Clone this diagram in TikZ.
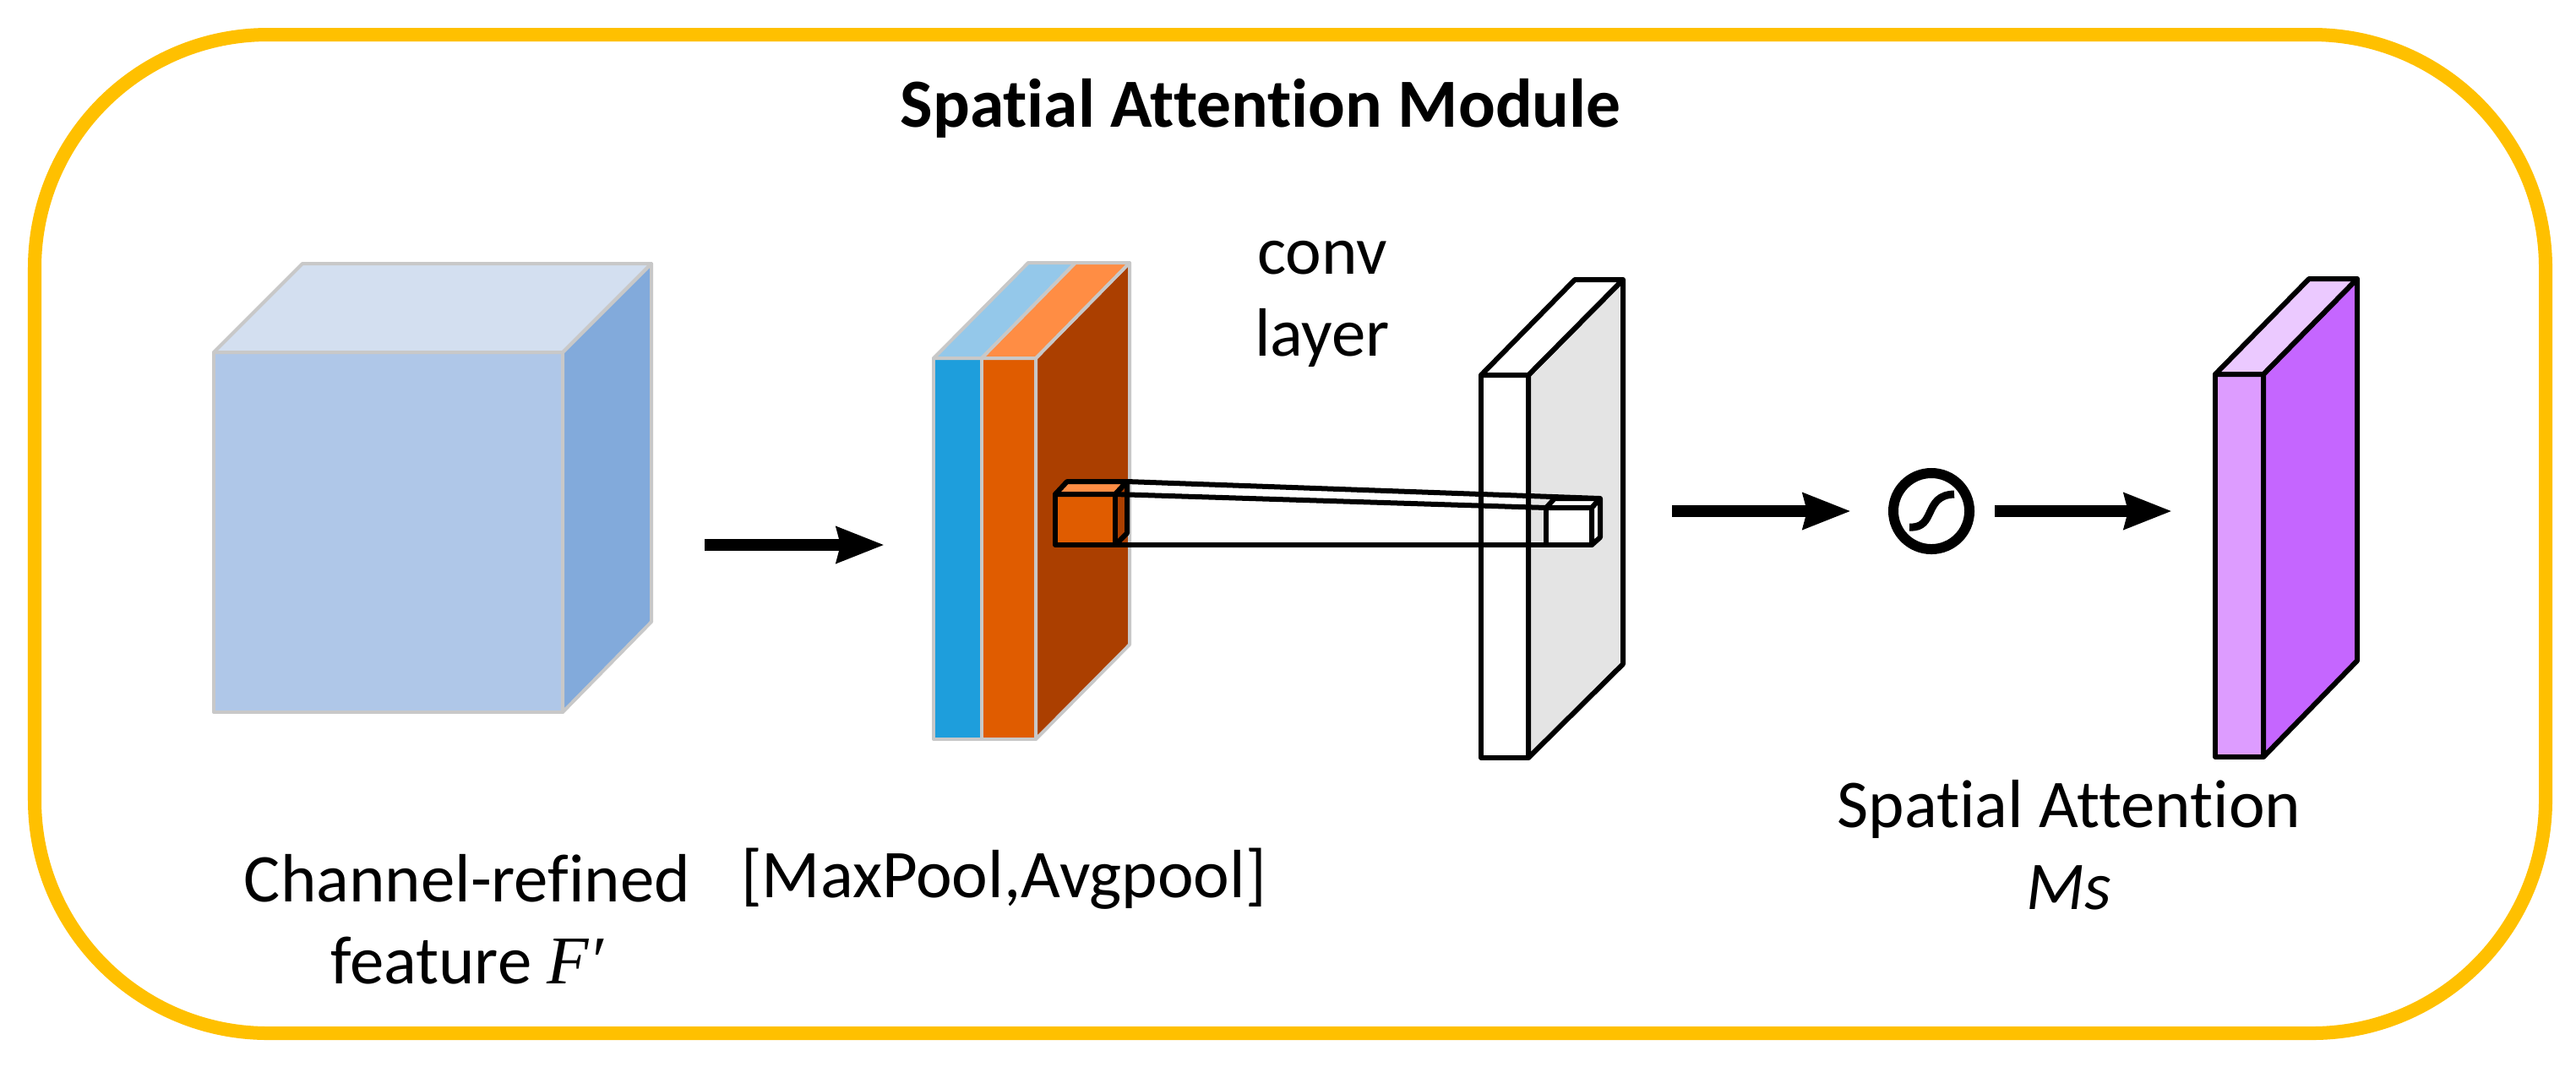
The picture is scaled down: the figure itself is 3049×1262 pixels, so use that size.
\documentclass[tikz,border=0pt]{standalone}
\usepackage{amsmath}
\usepackage{fontspec}
\setmainfont[Ligatures=NoCommon]{Carlito}
\newfontfamily\primefont{Liberation Serif}
\usetikzlibrary{arrows.meta}
\pgfdeclarelayer{nodelayer}
\pgfdeclarelayer{edgelayer}
\pgfsetlayers{edgelayer,nodelayer,main}
\definecolor{frameyellow}{HTML}{FFC000}
\definecolor{edgegray}{HTML}{C8C8C8}
\definecolor{cubefront}{HTML}{AFC7E8}
\definecolor{cubeside}{HTML}{82AADB}
\definecolor{cubetop}{HTML}{D3DFF0}
\definecolor{poolblue}{HTML}{1E9EDC}
\definecolor{poolorange}{HTML}{E05C00}
\definecolor{poolside}{HTML}{AB3F00}
\definecolor{pooltopblue}{HTML}{94C8EA}
\definecolor{pooltoporange}{HTML}{FF8D44}
\definecolor{convside}{HTML}{E4E4E4}
\definecolor{attnfront}{HTML}{DD9CFF}
\definecolor{attnside}{HTML}{C566FF}
\definecolor{attntop}{HTML}{EBC9FF}
\tikzstyle{frame}=[draw=frameyellow, line width=0.16cm, rounded corners=2.76cm]
\tikzstyle{gray face}=[draw=edgegray, line width=0.04cm, line join=round]
\tikzstyle{black face}=[draw=black, line width=0.06cm, line join=round]
\tikzstyle{text box}=[align=center, inner sep=0pt, font=\fontsize{23}{27.5}\selectfont]
\tikzstyle{title box}=[align=center, inner sep=0pt, font=\fontsize{23.2}{27.5}\selectfont\bfseries]
\tikzstyle{sigmoid}=[draw=black, shape=circle, line width=0.12cm, minimum size=0.9cm, inner sep=0pt]
\tikzstyle{directed edge}=[-{Stealth[length=0.56cm, width=0.41cm, inset=0.04cm]}, line width=0.14cm]

\begin{document}
\begin{tikzpicture}[x=0.01cm, y=-0.01cm]
	\useasboundingbox (0, 0) rectangle (3049, 1262);
	\begin{pgfonlayer}{nodelayer}
		\node [style=title box] (0) at (1492, 128) {Spatial Attention Module};
		\node [style=text box] (1) at (1565, 360) {conv\\layer};
		\node [style=text box] (2) at (553, 1088) {Channel-refined\\feature {\primefont\itshape F′}};
		\node [style=text box] (3) at (1188, 1040) {[MaxPool,Avgpool]};
		\node [style=text box] (4) at (2449, 1000) {Spatial Attention\\\textit{Ms}};
		\node [style=sigmoid] (5) at (2286, 605) {};
		\draw [line width=0.09cm] (2260, 624) .. controls (2292, 626) and (2276, 586) .. (2313, 585);
		\coordinate (6) at (834, 645);
		\coordinate (7) at (1047, 645);
		\coordinate (8) at (1979, 605);
		\coordinate (9) at (2571, 605);
	\end{pgfonlayer}
	\begin{pgfonlayer}{edgelayer}
		\draw [style=frame] (41, 41) rectangle (3013, 1223);
		% input cube
		\draw [style=gray face, fill=cubefront] (253, 417) rectangle (666, 843);
		\draw [style=gray face, fill=cubeside] (666, 417) -- (771, 312) -- (771, 736) -- (666, 843) -- cycle;
		\draw [style=gray face, fill=cubetop] (253, 417) -- (358, 312) -- (771, 312) -- (666, 417) -- cycle;
		% pooled maps
		\draw [style=gray face, fill=poolblue] (1105, 424) rectangle (1162, 875);
		\draw [style=gray face, fill=poolorange] (1162, 424) rectangle (1226, 875);
		\draw [style=gray face, fill=poolside] (1226, 424) -- (1337, 311) -- (1337, 763) -- (1226, 875) -- cycle;
		\draw [style=gray face, fill=pooltopblue] (1105, 424) -- (1217, 311) -- (1273, 311) -- (1162, 424) -- cycle;
		\draw [style=gray face, fill=pooltoporange] (1162, 424) -- (1273, 311) -- (1337, 311) -- (1226, 424) -- cycle;
		% conv layer
		\draw [style=black face, fill=white] (1753, 444) rectangle (1809, 897);
		\draw [style=black face, fill=convside] (1809, 444) -- (1921, 331) -- (1921, 786) -- (1809, 897) -- cycle;
		\draw [style=black face, fill=white] (1753, 444) -- (1864, 331) -- (1921, 331) -- (1809, 444) -- cycle;
		% small cube and beam
		\draw [style=black face, fill=poolorange] (1249, 585) rectangle (1320, 645);
		\draw [style=black face, fill=pooltoporange] (1249, 585) -- (1263, 570) -- (1334, 570) -- (1320, 585) -- cycle;
		\draw [style=black face] (1320, 585) -- (1334, 570) -- (1334, 631) -- (1320, 645);
		\draw [style=black face] (1334, 570) -- (1894, 590);
		\draw [style=black face] (1320, 585) -- (1830, 601);
		\draw [style=black face] (1320, 645) -- (1830, 645);
		\draw [style=black face, fill=white] (1830, 601) rectangle (1884, 645);
		\draw [style=black face, fill=white] (1830, 601) -- (1840, 590) -- (1894, 590) -- (1884, 601) -- cycle;
		\draw [style=black face, fill=white] (1884, 601) -- (1894, 590) -- (1894, 636) -- (1884, 645) -- cycle;
		% attention map
		\draw [style=black face, fill=attnfront] (2622, 443) rectangle (2679, 896);
		\draw [style=black face, fill=attnside] (2679, 443) -- (2790, 330) -- (2790, 782) -- (2679, 896) -- cycle;
		\draw [style=black face, fill=attntop] (2622, 443) -- (2733, 330) -- (2790, 330) -- (2679, 443) -- cycle;
		\draw [style=directed edge] (6) to (7);
		\draw [style=directed edge, shorten >=0.44cm] (8) to (5);
		\draw [style=directed edge, shorten <=0.24cm] (5) to (9);
	\end{pgfonlayer}
\end{tikzpicture}
\end{document}
